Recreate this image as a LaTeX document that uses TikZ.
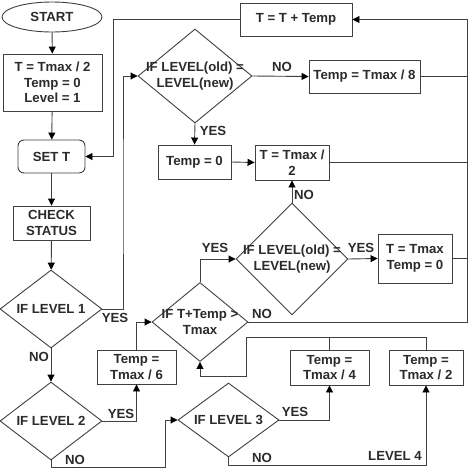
\documentclass[tikz,border=0pt]{standalone}
\usepackage{fontspec}
\setmainfont{Liberation Sans}
\usetikzlibrary{shapes.geometric,arrows.meta}
\definecolor{ln}{HTML}{404040}
\definecolor{tx}{HTML}{2B2B2B}
\begin{document}
\begin{tikzpicture}[x=1pt,y=-1pt,
  every node/.style={text=tx,font=\fontsize{13.2}{15.5}\selectfont\bfseries,inner sep=0pt,align=center},
  box/.style={draw=ln,line width=0.9pt,rectangle},
  rbox/.style={draw=ln,line width=0.9pt,rectangle,rounded corners=6pt},
  dia/.style={draw=ln,line width=0.9pt,diamond,inner sep=0pt},
  oval/.style={draw=ln,line width=0.9pt,ellipse},
  ln/.style={draw=ln,line width=0.9pt},
  arr/.style={draw=ln,line width=0.9pt,-{Triangle[length=7pt,width=7pt,color=black]}},
  lab/.style={text=tx}]
\useasboundingbox (0,0) rectangle (474,474);
\fill[white] (0,0) rectangle (474,474);
% nodes
\node[oval,minimum width=100,minimum height=30] (start) at (52,17) {START};
\node[box,minimum width=99,minimum height=57] (b1) at (52.5,82.5) {T = Tmax / 2\\Temp = 0\\Level = 1};
\node[rbox,minimum width=67,minimum height=33] (sett) at (51.5,156.5) {SET T};
\node[box,minimum width=77,minimum height=34] (chk) at (51.5,223) {CHECK\\STATUS};
\node[dia,minimum width=102,minimum height=78] (d1) at (51,309) {};
\node (d1t) at (d1) {IF LEVEL 1};
\node[dia,minimum width=102,minimum height=78] (d2) at (51,421) {};
\node (d2t) at (d2) {IF LEVEL 2};
\node[box,minimum width=112,minimum height=33] (tt) at (296,19.5) {T = T + Temp};
\node[dia,minimum width=114,minimum height=94] (d3) at (195,76) {};
\node (d3t) at (d3) {IF LEVEL(old) =\\LEVEL(new)};
\node[box,minimum width=111,minimum height=33] (t8) at (364.5,76.5) {Temp = Tmax / 8};
\node[box,minimum width=73,minimum height=34] (t0) at (194.5,162) {Temp = 0};
\node[box,minimum width=74,minimum height=35] (th) at (292,162.5) {T = Tmax /\\2};
\node[dia,minimum width=112,minimum height=112] (d4) at (292,259) {};
\node (d4t) at (d4) {IF LEVEL(old) =\\LEVEL(new)};
\node[box,minimum width=74,minimum height=49] (tm) at (415,258.5) {T = Tmax\\Temp = 0};
\node[dia,minimum width=96,minimum height=79] (d5) at (200,322) {};
\node (d5t) at (d5) {IF T+Temp >\\Tmax};
\node[box,minimum width=79,minimum height=34] (t6) at (136.5,367) {Temp =\\Tmax / 6};
\node[dia,minimum width=101,minimum height=74] (d6) at (228.5,420) {};
\node (d6t) at (d6) {IF LEVEL 3};
\node[box,minimum width=79,minimum height=35] (t4) at (329.5,367.5) {Temp =\\Tmax / 4};
\node[box,minimum width=74,minimum height=35] (t2) at (426,367.5) {Temp =\\Tmax / 2};
% helper coordinates
\coordinate (rr) at (467,322);
\coordinate (lx) at (113,0);
\coordinate (c4) at (123,200);
\coordinate (c1) at (165,467);
\coordinate (j) at (246,337);
\coordinate (j2) at (246,376);
% connectors
\draw[arr] (start) -- (b1);
\draw[arr] (b1) -- (sett);
\draw[arr] (sett) -- (chk);
\draw[arr] (chk) -- (d1);
\draw[arr] (d1.south) -- (d2.north);
\draw[arr] (d1.east) -| (c4) |- (d3.west);
\draw[arr] (tt.west) -- (tt.west -| lx) -- (sett.east -| lx) -- (sett.east);
\draw[arr] (d3.east) -- (t8.west);
\draw[arr] (d3.south) -- (t0.north);
\draw[arr] (t0.east) -- (th.west);
\draw[ln] (t8.east) -- (t8.east -| rr);
\draw[ln] (th.east) -- (th.east -| rr);
\draw[ln] (tm.east) -- (tm.east -| rr);
\draw[arr] (d5.east) -- (rr) -- (rr |- tt.east) -- (tt.east);
\draw[arr] (d4.north) -- (th.south);
\draw[arr] (d4.east) -- (tm.west);
\draw[arr] (d5.north) |- (d4.west);
\draw[arr] (t6.north) |- (d5.west);
\draw[arr] (d2.east) -| (t6.south);
\draw[arr] (d2.south) |- (c1) |- (d6.west);
\draw[arr] (d6.east) -| (t4.south);
\draw[arr] (d6.south) -- ++(0,8) -| (t2.south);
\draw[ln] (t4.north) -- (t4.north |- j);
\draw[ln] (t2.north) |- (j);
\draw[arr] (j) -- (j2) -| (d5.south);
% labels
\node[lab] (l1) at (282,67) {NO};
\node[lab] (l2) at (213,131) {YES};
\node[lab] (l3) at (304,195) {NO};
\node[lab] (l4) at (215,248) {YES};
\node[lab] (l5) at (361,248) {YES};
\node[lab] (l6) at (262,314) {NO};
\node[lab] (l7) at (115,318) {YES};
\node[lab] (l8) at (39,357) {NO};
\node[lab] (l9) at (121,414) {YES};
\node[lab] (l10) at (75,460) {NO};
\node[lab] (l11) at (295,412) {YES};
\node[lab] (l12) at (262,458) {NO};
\node[lab] (l13) at (395,456) {LEVEL 4};
\end{tikzpicture}
\end{document}
